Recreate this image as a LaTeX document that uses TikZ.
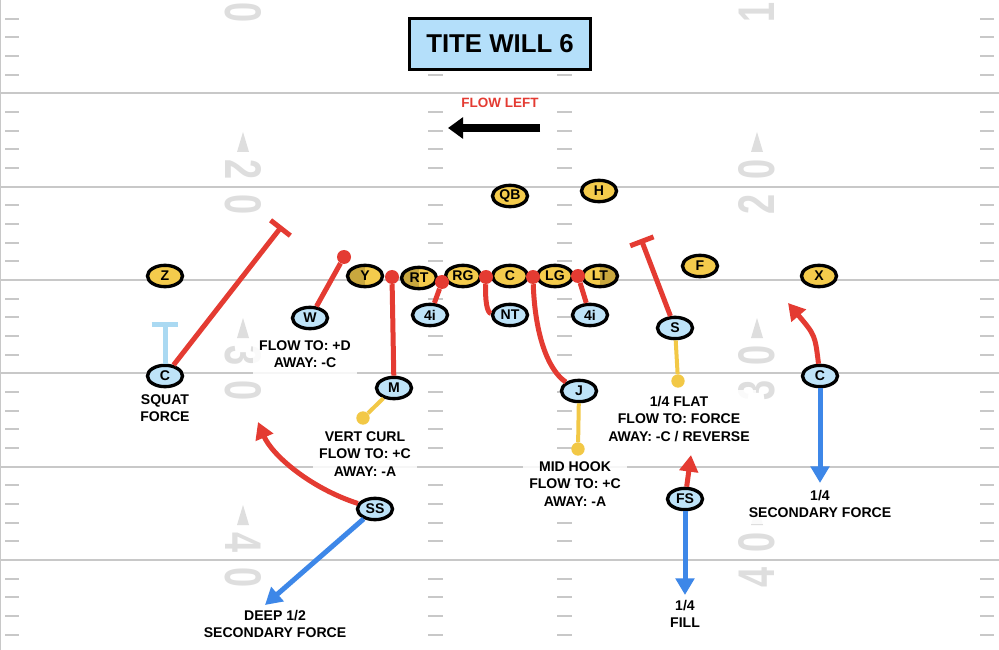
\documentclass[tikz,border=0pt]{standalone}
\usepackage{fontspec}
\setmainfont{Liberation Sans}
\usepackage{graphicx}
\usetikzlibrary{shapes.geometric}
\usetikzlibrary{arrows.meta}
\definecolor{fieldgray}{RGB}{200,200,200}
\definecolor{numgray}{RGB}{222,222,222}
\definecolor{offyellow}{RGB}{244,203,76}
\definecolor{offgold}{RGB}{201,167,62}
\definecolor{defblue}{RGB}{190,227,248}
\definecolor{titleblue}{RGB}{180,223,250}
\definecolor{routered}{RGB}{228,59,50}
\definecolor{routeblue}{RGB}{61,135,232}
\definecolor{routeyellow}{RGB}{242,200,70}
\definecolor{squatblue}{RGB}{170,217,242}
\newcommand{\yardnum}[2]{\scalebox{0.7}[1]{#1}\kern12pt\scalebox{0.7}[1]{#2}}
\tikzset{player/.style={ellipse,draw=black,line width=0.1cm,inner sep=0pt,
   minimum width=1.05cm,minimum height=0.64cm,font=\fontsize{12}{12}\selectfont\bfseries},
 offense/.style={player,fill=offyellow},
 defense/.style={player,fill=defblue},
 darkleft/.style={path picture={\fill[offgold] (path picture bounding box.south west) rectangle (path picture bounding box.north);}},
 darkright/.style={path picture={\fill[offgold] (path picture bounding box.south) rectangle (path picture bounding box.north east);}},
 rdot/.style={circle,fill=routered,inner sep=0pt,minimum size=0.42cm},
 ydot/.style={circle,fill=routeyellow,inner sep=0pt,minimum size=0.4cm},
 redline/.style={draw=routered,line width=0.15cm},
 redarrow/.style={redline,-{Triangle[length=0.5cm,width=0.55cm]}},
 bluearrow/.style={draw=routeblue,line width=0.15cm,-{Triangle[length=0.5cm,width=0.55cm]}},
 yellowline/.style={draw=routeyellow,line width=0.12cm},
 lbl/.style={align=center,font=\fontsize{12}{15}\selectfont\bfseries,fill=white,
   fill opacity=0.85,text opacity=1,inner sep=5pt},
 yardline/.style={draw=fieldgray,line width=0.06cm},
 hashmark/.style={draw=fieldgray,line width=0.06cm},
 yardfig/.style={text=numgray,font=\fontsize{44}{44}\selectfont\bfseries,inner sep=0pt},
 }

\begin{document}
\begin{tikzpicture}[x=0.03cm,y=-0.03cm]
        \useasboundingbox (0,0) rectangle (999,650);
        \fill[white] (0,0) rectangle (999,650);
        % field
        \draw[yardline] (0.5,0) -- (0.5,650);
        \foreach \l in {1,...,6} {
            \draw[yardline] (0,\l*93.33) -- (999,\l*93.33);
        }
        \foreach \l in {0,...,6} {
            \foreach \t in {1,...,4} {
                \draw[hashmark] (5,\l*93.33+\t*18.67) -- (19,\l*93.33+\t*18.67);
                \draw[hashmark] (428,\l*93.33+\t*18.67) -- (443,\l*93.33+\t*18.67);
                \draw[hashmark] (557,\l*93.33+\t*18.67) -- (572,\l*93.33+\t*18.67);
                \draw[hashmark] (980,\l*93.33+\t*18.67) -- (994,\l*93.33+\t*18.67);
            }
        }
        \node[yardfig,rotate=-90] (numl1) at (243,13) {\scalebox{0.7}[1]{0}};
        \node[yardfig,rotate=90] (numr1) at (757,12) {\scalebox{0.7}[1]{1}};
        \foreach \a/\b/\yy [count=\i from 2] in {2/0/187, 3/0/373, 4/0/560} {
            \node[yardfig,rotate=-90] (numl\i) at (243,\yy) {\yardnum{\a}{\b}};
            \node[yardfig,rotate=90] (numr\i) at (757,\yy) {\yardnum{\a}{\b}};
        }
        \foreach \yy in {187,373,560} {
            \fill[numgray] (243,\yy-55) -- (237,\yy-35) -- (249,\yy-35) -- cycle;
            \fill[numgray] (757,\yy-55) -- (751,\yy-35) -- (763,\yy-35) -- cycle;
        }
        % title and flow
        \node[draw=black,line width=0.09cm,fill=titleblue,minimum width=5.45cm,minimum height=1.55cm,
            font=\fontsize{22}{22}\selectfont\bfseries] (title) at (500,44) {TITE WILL 6};
        \node[text=routered,font=\fontsize{11.5}{11.5}\selectfont\bfseries] (flow) at (500,103) {FLOW LEFT};
        \coordinate (flowstart) at (540,128);
        \coordinate (flowend) at (448,128);
        \draw[line width=0.26cm,-{Triangle[length=0.45cm,width=0.62cm]}] (flowstart) -- (flowend);
        % labels
        \node[lbl] (lblw) at (305,354) {FLOW TO: +D\\AWAY: -C};
        \node[lbl] (lblcl) at (165,408) {SQUAT\\FORCE};
        \node[lbl] (lblm) at (365,454) {VERT CURL\\FLOW TO: +C\\AWAY: -A};
        \node[lbl] (lblj) at (575,484) {MID HOOK\\FLOW TO: +C\\AWAY: -A};
        \node[lbl] (lbls) at (679,419) {1/4 FLAT\\FLOW TO: FORCE\\AWAY: -C / REVERSE};
        \node[lbl] (lblcr) at (820,504) {1/4\\SECONDARY FORCE};
        \node[lbl] (lblss) at (275,624) {DEEP 1/2\\SECONDARY FORCE};
        \node[lbl] (lblfs) at (685,614) {1/4\\FILL};
        % offense
        \node[offense] (qb) at (510,196) {QB};
        \node[offense] (h) at (599,191) {H};
        \node[offense] (z) at (165,276) {Z};
        \node[offense,darkleft] (y) at (365,276) {Y};
        \node[offense,darkleft] (rt) at (419,278) {RT};
        \node[offense] (rg) at (463,276) {RG};
        \node[offense] (c) at (510,276) {C};
        \node[offense] (lg) at (555,276) {LG};
        \node[offense,darkright] (lt) at (600,276) {LT};
        \node[offense] (f) at (700,266) {F};
        \node[offense] (x) at (819,276) {X};
        % defense
        \node[defense] (w) at (310,318) {W};
        \node[defense] (til) at (430,315) {4i};
        \node[defense] (nt) at (510,315) {NT};
        \node[defense] (tir) at (590,315) {4i};
        \node[defense] (s) at (675,328) {S};
        \node[defense] (cl) at (165,376) {C};
        \node[defense] (m) at (394,388) {M};
        \node[defense] (j) at (579,391) {J};
        \node[defense] (cr) at (820,376) {C};
        \node[defense] (ss) at (375,509) {SS};
        \node[defense] (fs) at (685,499) {FS};
        % gap dots
        \node[rdot] (dw) at (344,257) {};
        \node[rdot] (dm) at (392,277) {};
        \node[rdot] (dtil) at (442,282) {};
        \node[rdot] (dnt) at (486,277) {};
        \node[rdot] (dj) at (533,277) {};
        \node[rdot] (dtir) at (578,276) {};
        \node[ydot] (ym) at (363,418) {};
        \node[ydot] (yj) at (578,449) {};
        \node[ydot] (ys) at (678,381) {};
        \coordinate (clbar) at (282,226);
        \coordinate (cltop) at (165,322);
        \coordinate (sbar) at (641,239);
        \coordinate (crtip) at (788,303);
        \coordinate (crdeep) at (820,483);
        \coordinate (sstip) at (258,422);
        \coordinate (ssdeep) at (265,605);
        \coordinate (fstip) at (691,455);
        \coordinate (fsdeep) at (685,595);
        % assignments
        \draw[squatblue,line width=0.15cm,-{Bar[width=0.8cm]}] (cl) -- (cltop);
        \draw[redline,-{Bar[width=0.75cm]}] (cl) -- (clbar);
        \draw[redline] (w) -- (dw);
        \draw[redline] (m) -- (dm);
        \draw[yellowline] (m) -- (ym);
        \draw[redline] (til) -- (dtil);
        \draw[redline] (nt) .. controls (487,313) and (485,300) .. (dnt);
        \draw[redline] (j) .. controls (548,370) and (535,335) .. (dj);
        \draw[yellowline] (j) -- (yj);
        \draw[redline] (tir) -- (dtir);
        \draw[redline,-{Bar[width=0.75cm]}] (s) -- (sbar);
        \draw[yellowline] (s) -- (ys);
        \draw[redarrow] (cr) .. controls (815,335) .. (crtip);
        \draw[bluearrow] (cr) -- (crdeep);
        \draw[redarrow] (ss) .. controls (310,488) and (272,455) .. (sstip);
        \draw[bluearrow] (ss) -- (ssdeep);
        \draw[redarrow] (fs) -- (fstip);
        \draw[bluearrow] (fs) -- (fsdeep);
\end{tikzpicture}
\end{document}
